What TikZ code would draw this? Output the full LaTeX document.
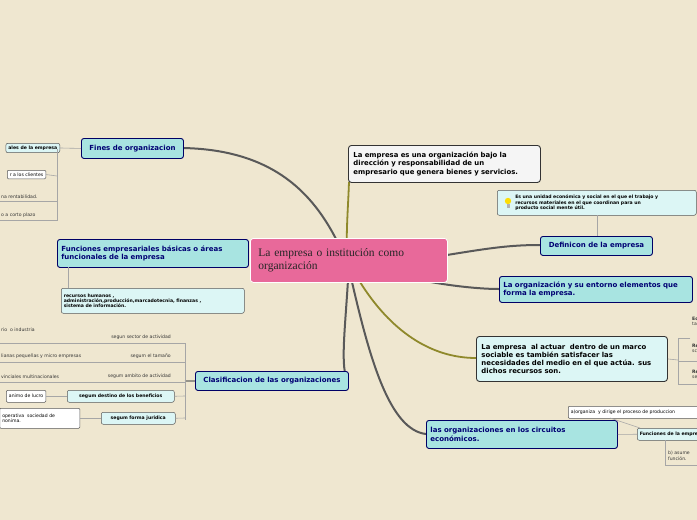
\documentclass[tikz,border=0pt]{standalone}
\usepackage{fontspec}
\setsansfont{DejaVu Sans}
\setmainfont{Liberation Serif}
\begin{document}
\begin{tikzpicture}[x=1pt,y=-1pt,
 main/.style={draw=blue!40!black,line width=0.9pt,fill=cyanA,rounded corners=2.5pt,font=\sffamily\bfseries\fontsize{7}{8.4}\selectfont,text=blue!45!black,align=left,inner sep=4pt,anchor=north west},
 sub/.style={draw=gray!70!black,line width=0.5pt,fill=cyanB,rounded corners=2pt,font=\sffamily\bfseries\fontsize{4.6}{5.4}\selectfont,text=black,align=left,inner sep=2.5pt,anchor=north west},
 wbox/.style={draw=gray!70!black,line width=0.5pt,fill=white,rounded corners=1pt,font=\sffamily\fontsize{4.6}{5.4}\selectfont,align=left,inner sep=2.5pt,anchor=north west},
 txt/.style={font=\sffamily\fontsize{4.6}{5.4}\selectfont,align=left,inner sep=1pt,anchor=south west,text=black!80},
 big/.style={draw=black!80,line width=0.9pt,rounded corners=3pt,font=\sffamily\bfseries\fontsize{6.9}{8.2}\selectfont,text=black,align=left,inner sep=5pt,anchor=north west},
 thick1/.style={draw=black!65,line width=2pt},
 oliv/.style={draw=olive!70!gray,line width=1.8pt},
 thin1/.style={draw=gray!70,line width=0.6pt}]
\definecolor{cyanA}{HTML}{A8E4E1}\definecolor{cyanB}{HTML}{DCF6F5}\definecolor{bg}{HTML}{EFE7D0}\definecolor{pinkc}{HTML}{E8699A}
\useasboundingbox (0,0) rectangle (697,520);
\clip (0,0) rectangle (697,520);
\fill[bg] (0,0) rectangle (697,520);
% connectors from centre
\draw[thick1] (183,148) .. controls (280,150) and (320,200) .. (345,258);
\draw[thick1] (348,280) .. controls (345,330) and (340,370) .. (348,380);
\draw[oliv] (349,182) .. controls (348,210) and (346,230) .. (347,260);
\draw[thick1] (447,255) .. controls (490,248) and (510,245) .. (540,245);
\draw[thick1] (420,280) .. controls (450,286) and (480,289) .. (499,289);
\draw[oliv] (360,282) .. controls (390,330) and (430,358) .. (476,358);
\draw[thick1] (352,282) .. controls (370,360) and (390,430) .. (426,434);
% centre
\node[draw=white,line width=0.8pt,fill=pinkc,rounded corners=3pt,text width=181pt,minimum height=44pt,inner xsep=8pt,anchor=north west,align=left,font=\fontsize{11.5}{13}\selectfont,text=black!85] (ctr) at (250,238) {La empresa o institución como\\organización};
% Fines
\node[main,minimum width=102pt,minimum height=20pt,align=center] (fin) at (81,138) {Fines de organizacion};
\node[sub,anchor=north east] (f1) at (60,143) {ales de la empresa};
\node[wbox,anchor=north east] (f2) at (46,170) {r a los clientes};
\node[txt] (f3) at (0,200) {na rentabilidad.};
\node[txt] (f4) at (0,219) {o a corto plazo};
\draw[thin1] (f1.east) -- (fin.west);
\draw[thin1] (57,149) -- (57,220) -- (0,220);
\draw[thin1] (f2.east) -- (57,176);
\draw[thin1] (0,201) -- (57,201);
% Funciones
\node[main,text width=183pt,minimum height=28pt] (fun) at (57,239) {Funciones empresariales básicas o áreas\\funcionales de la empresa};
\node[sub,text width=178pt,minimum height=25pt] (fun1) at (61,288) {recursos humanos ,\\administración,producción,marcadotecnia, finanzas ,\\sistema de información.};
\draw[thin1] (68,267) -- (68,288);
% Clasificacion
\node[main,minimum width=153pt,minimum height=19pt,align=center] (cla) at (195,371) {Clasificacion de las organizaciones};
\draw[line width=1.2pt,black!60] (cla.west) -- (185,381);
\draw[thin1] (185,343) -- (185,420);
\node[txt,anchor=south east] (s1) at (172,341) {segun sector de actividad};
\draw[thin1] (0,343) -- (185,343);
\node[txt] at (0,333) {rio \ o industria};
\node[txt,anchor=south east] (s2) at (172,360) {segum el tamaño};
\node[txt] at (0,360) {lianas pequeñas y micro empresas};
\draw[thin1] (0,362) -- (185,362);
\node[txt,anchor=south east] (s3) at (172,380) {segum ambito de actividad};
\node[txt] at (0,380) {vinciales multinacionales};
\draw[thin1] (0,382) -- (185,382);
\node[sub,minimum width=107pt,minimum height=12pt,align=center] (s4) at (67,390) {segum destino de los beneficios};
\draw[thin1] (s4.east) -- (185,396);
\node[wbox,anchor=north east,minimum height=12pt] (s4a) at (46,390) {animo de lucro};
\draw[thin1] (s4a.east) -- (s4.west);
\node[sub,minimum width=74pt,minimum height=12pt,align=center] (s5) at (101,412) {segum forma juridica};
\draw[thin1] (s5.east) -- (185,418);
\node[wbox,anchor=north east,text width=75pt,minimum height=20pt] (s5a) at (80,408) {operativa \ sociedad de\\nonima.};
\draw[thin1] (s5a.east) -- (s5.west);
% right side
\node[big,fill=gray!8,text width=182pt,minimum height=37pt] (emp) at (348,145) {La empresa es una organización bajo la\\dirección y responsabilidad de un\\empresario que genera bienes y servicios.};
\node[sub,text width=195pt,minimum height=25pt,font=\sffamily\bfseries\fontsize{4.6}{5.4}\selectfont,inner sep=2pt] (bulb) at (497,190) {\hspace*{16pt}Es una unidad económica y social en el que el trabajo y\\\hspace*{16pt}recursos materiales en el que coordinan para un\\\hspace*{16pt}producto social mente útil.};
\fill[yellow!80!orange] (508,201) circle (3.2pt);
\fill[gray!60] (506.5,204) rectangle (509.5,208);
\node[main,minimum width=112pt,minimum height=19pt,align=center] (def) at (540,236) {Definicon de la empresa};
\draw[thin1] (597,215) -- (597,236);
\node[main,text width=185pt,minimum height=26pt] (org) at (499,276) {La organización y su entorno elementos que\\forma la empresa.};
\node[big,fill=cyanB,text width=181pt,minimum height=45pt] (act) at (476,336) {La empresa \ al actuar \ dentro de un marco\\sociable es también satisfacer las\\necesidades del medio en el que actúa. sus\\dichos recursos son.};
\draw[thin1] (act.east) -- (678,360);
\draw[thin1] (690,338) -- (678,338) -- (678,384) -- (697,384);
\draw[thin1] (678,361) -- (697,361);
\node[txt,font=\sffamily\bfseries\fontsize{4.6}{5.4}\selectfont,anchor=north west,inner sep=0pt] at (692,317) {Ec\\[-0.5pt]\mdseries ta};
\node[txt,font=\sffamily\bfseries\fontsize{4.6}{5.4}\selectfont,anchor=north west,inner sep=0pt] at (692,344) {Re\\[-0.5pt]\mdseries sc};
\node[txt,font=\sffamily\bfseries\fontsize{4.6}{5.4}\selectfont,anchor=north west,inner sep=0pt] at (692,370) {Re\\[-0.5pt]\mdseries se};
\node[main,text width=183pt,minimum height=28pt] (cir) at (426,420) {las organizaciones en los circuitos\\económicos.};
\node[wbox,text width=140pt,minimum height=12pt] (ca) at (568,406) {a)organiza \ y dirige el proceso de produccion};
\node[sub,text width=70pt,minimum height=12pt] (cf) at (637,428) {Funciones de la empresa};
\draw[thin1] (cir.east) -- (cf.west);
\draw[thin1] (610,418) -- (640,428);
\node[txt,anchor=north west,inner sep=0pt] at (668,451) {b) asume\\función.};
\draw[thin1] (665,465) -- (697,465);
\draw[thin1] (665,440) -- (665,465);
\end{tikzpicture}
\end{document}
